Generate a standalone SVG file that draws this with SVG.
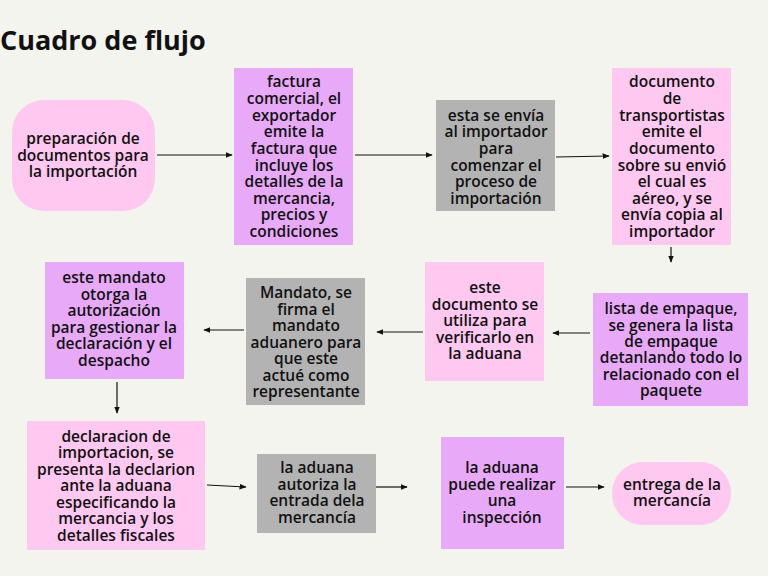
<svg xmlns="http://www.w3.org/2000/svg" width="768" height="576" viewBox="0 0 768 576">
<style>
text{font-family:"Open Sans","DejaVu Sans",sans-serif;font-weight:600;font-size:15.5px;fill:#111;text-anchor:middle}
.pk{fill:#ffc8f0}.pu{fill:#e8aaf8}.gr{fill:#b3b3b3}
.c line{stroke:#111;stroke-width:1.2;marker-end:url(#a)}
</style>
<defs><marker id="a" viewBox="0 0 10 10" refX="9" refY="5" markerWidth="6" markerHeight="6" orient="auto"><path d="M0,1L10,5L0,9z" fill="#111"/></marker></defs>
<rect width="768" height="576" fill="#f4f4ef"/>
<text x="0" y="50" style="font-size:27px;font-weight:700;text-anchor:start">Cuadro de flujo</text>
<g id="n1"><rect class="pk" x="12" y="100" width="143" height="111" rx="32"/><text x="83" y="144">preparación de</text><text x="83" y="161">documentos para</text><text x="83" y="177">la importación</text></g>
<g id="n2"><rect class="pu" x="234" y="68" width="119" height="177"/><text x="294" y="87">factura</text><text x="294" y="104">comercial, el</text><text x="294" y="121">exportador</text><text x="294" y="137">emite la</text><text x="294" y="154">factura que</text><text x="294" y="171">incluye los</text><text x="294" y="187">detalles de la</text><text x="294" y="204">mercancia,</text><text x="294" y="220">precios y</text><text x="294" y="237">condiciones</text></g>
<g id="n3"><rect class="gr" x="436" y="100" width="119" height="111"/><text x="496" y="121">esta se envía</text><text x="496" y="137">al importador</text><text x="496" y="154">para</text><text x="496" y="171">comenzar el</text><text x="496" y="187">proceso de</text><text x="496" y="204">importación</text></g>
<g id="n4"><rect class="pk" x="612" y="68" width="119" height="177"/><text x="672" y="87">documento</text><text x="672" y="104">de</text><text x="672" y="121">transportistas</text><text x="672" y="137">emite el</text><text x="672" y="154">documento</text><text x="672" y="171">sobre su envió</text><text x="672" y="187">el cual es</text><text x="672" y="204">aéreo, y se</text><text x="672" y="220">envía copia al</text><text x="672" y="237">importador</text></g>
<g id="n5"><rect class="pu" x="593" y="293" width="155" height="113"/><text x="671" y="314">lista de empaque,</text><text x="671" y="331">se genera la lista</text><text x="671" y="347">de empaque</text><text x="671" y="363">detanlando todo lo</text><text x="671" y="380">relacionado con el</text><text x="671" y="396">paquete</text></g>
<g id="n6"><rect class="pk" x="425" y="262" width="119" height="119"/><text x="485" y="293">este</text><text x="485" y="310">documento se</text><text x="485" y="326">utiliza para</text><text x="485" y="343">verificarlo en</text><text x="485" y="359">la aduana</text></g>
<g id="n7"><rect class="gr" x="246" y="278" width="119" height="127"/><text x="306" y="298">Mandato, se</text><text x="306" y="315">firma el</text><text x="306" y="331">mandato</text><text x="306" y="348">aduanero para</text><text x="306" y="364">que este</text><text x="306" y="381">actué como</text><text x="306" y="397">representante</text></g>
<g id="n8"><rect class="pu" x="45" y="262" width="139" height="117"/><text x="114" y="283">este mandato</text><text x="114" y="300">otorga la</text><text x="114" y="316">autorización</text><text x="114" y="333">para gestionar la</text><text x="114" y="349">declaración y el</text><text x="114" y="366">despacho</text></g>
<g id="n9"><rect class="pk" x="27" y="421" width="178" height="129"/><text x="116" y="442">declaracion de</text><text x="116" y="458">importacion, se</text><text x="116" y="475">presenta la declarion</text><text x="116" y="491">ante la aduana</text><text x="116" y="508">especificando la</text><text x="116" y="524">mercancia y los</text><text x="116" y="541">detalles fiscales</text></g>
<g id="n10"><rect class="gr" x="257" y="454" width="119" height="79"/><text x="317" y="473">la aduana</text><text x="317" y="490">autoriza la</text><text x="317" y="506">entrada dela</text><text x="317" y="523">mercancía</text></g>
<g id="n11"><rect class="pu" x="441" y="437" width="123" height="112"/><text x="502" y="473">la aduana</text><text x="502" y="490">puede realizar</text><text x="502" y="506">una</text><text x="502" y="523">inspección</text></g>
<g id="n12"><rect class="pk" x="612" y="462" width="119" height="63" rx="31"/><text x="672" y="490">entrega de la</text><text x="672" y="506">mercancía</text></g>
<g class="c">
<line x1="157" y1="155" x2="232" y2="155"/><line x1="355" y1="155" x2="432" y2="155"/><line x1="556" y1="157" x2="609" y2="156"/><line x1="671" y1="247" x2="671" y2="262"/><line x1="590" y1="333" x2="553" y2="333"/><line x1="423" y1="332" x2="377" y2="332"/><line x1="244" y1="330" x2="204" y2="330"/><line x1="117" y1="382" x2="117" y2="413"/><line x1="207" y1="485" x2="246" y2="487"/><line x1="376" y1="487" x2="407" y2="487"/><line x1="566" y1="487" x2="604" y2="487"/>
</g>
</svg>
